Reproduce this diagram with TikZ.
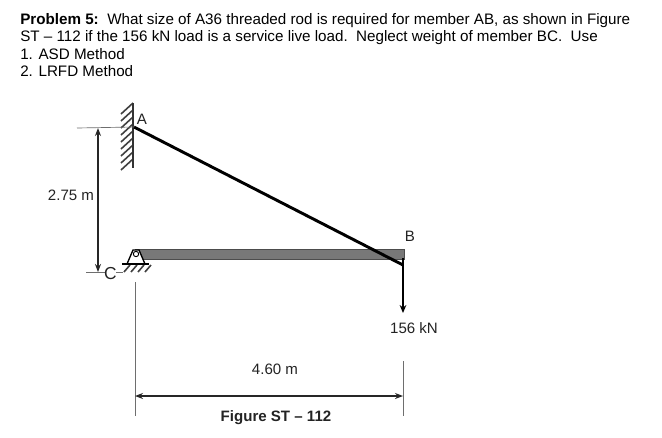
\documentclass[tikz,border=0pt]{standalone}
\usepackage{fontspec}
\setmainfont{Liberation Sans}
\usetikzlibrary{arrows.meta, positioning, calc}
\definecolor{myBeam}{RGB}{120, 120, 120}
\definecolor{myText}{RGB}{35, 35, 35}
\definecolor{myThin}{RGB}{110, 110, 110}

\begin{document}
\begin{tikzpicture}[
    x=0.75pt, y=-0.75pt,
    % --- styles ---
    % 1. text
    bodytext/.style={anchor=base west, inner sep=0pt, font=\fontsize{11.4}{12}\selectfont, text=black},
    labeltext/.style={inner sep=0pt, font=\fontsize{11.3}{12}\selectfont, text=myText},
    % 2. lines
    extline/.style={myThin, line width=0.5pt},
    dimarrow/.style={{Stealth[length=6pt,width=4.5pt]}-{Stealth[length=6pt,width=4.5pt]}, line width=1.2pt, black!85},
    loadarrow/.style={-{Stealth[length=6pt,width=5pt]}, line width=1.5pt, black},
    rodline/.style={line width=2.2pt, black},
    hatchline/.style={line width=1.2pt, black!75}
]
\useasboundingbox (0,0) rectangle (662,437);
\fill[white] (0,0) rectangle (662,437);

% === problem text ===
\node[bodytext] (line_a) at (20,24) {\textbf{Problem 5:}\ \ What size of A36 threaded rod is required for member AB, as shown in Figure};
\node[bodytext] (line_b) at (20,41) {ST -- 112 if the 156 kN load is a service live load.\ \ Neglect weight of member BC.\ \ Use};
\node[bodytext] (line_c) at (20,59) {1. ASD Method};
\node[bodytext] (line_d) at (20,76) {2. LRFD Method};

% === key points ===
\coordinate (pt_a) at (134,127);
\coordinate (pt_b) at (403,265);
\coordinate (pt_c) at (136,254);
\coordinate (pt_load) at (403,313);

% === wall at A ===
\foreach \yy in {114,121,...,170}
  \draw[hatchline] (121,\yy) -- (133,\yy-11);
\draw[line width=1pt, black!80] (133,103) -- (133,168);

% === beam BC ===
\node[draw=black!70, fill=myBeam, line width=0.5pt, minimum width=269*0.75pt, minimum height=10*0.75pt, inner sep=0pt, anchor=north west] (beam) at (135,248.5) {};

% === pin support at C ===
\foreach \xx in {130,137,...,151}
  \draw[hatchline] (\xx,265) -- (\xx-6,272);
\draw[fill=white, line width=1pt] (127,264) -- (133,250) -- (139,250) -- (145,264) -- cycle;
\draw[line width=1.7pt] (122,264) -- (149,264);
\node[circle, draw=black, fill=white, line width=0.7pt, minimum size=4pt, inner sep=0pt] (pin) at (pt_c) {};

% === rod and load ===
\draw[rodline] (pt_a) -- (pt_b);
\draw[loadarrow] (pt_b) -- (pt_load);
\draw[line width=1.3pt, black] (pt_b) -- (403,258);

% === dimension 2.75 m ===
\coordinate (dim_top) at (98,128);
\coordinate (dim_bot) at (98,272);
\draw[extline] (77,128) -- (pt_a);
\draw[extline] (86,272) -- (105,272);
\draw[extline] (116,272) -- (123,272);
\draw[dimarrow] (dim_top) -- (dim_bot);

% === dimension 4.60 m ===
\coordinate (ext_l) at (135,396);
\coordinate (ext_r) at (403,396);
\draw[extline] (135,282) -- (135,416);
\draw[extline] (403,361) -- (403,416);
\draw[dimarrow] (ext_l) -- (ext_r);

% === labels ===
\node[labeltext] (lab_a) at (142,119.5) {A};
\node[labeltext] (lab_b) at (410,236.5) {B};
\node[labeltext, font=\fontsize{13}{14}\selectfont] (lab_c) at (110.5,274) {C};
\node[labeltext] (lab_h) at (71,195.5) {2.75 m};
\node[labeltext] (lab_load) at (414,328) {156 kN};
\node[labeltext] (lab_l) at (275,369.5) {4.60 m};
\node[labeltext, font=\fontsize{11.3}{12}\selectfont\bfseries] (lab_fig) at (276,418) {Figure ST -- 112};

\end{tikzpicture}
\end{document}
